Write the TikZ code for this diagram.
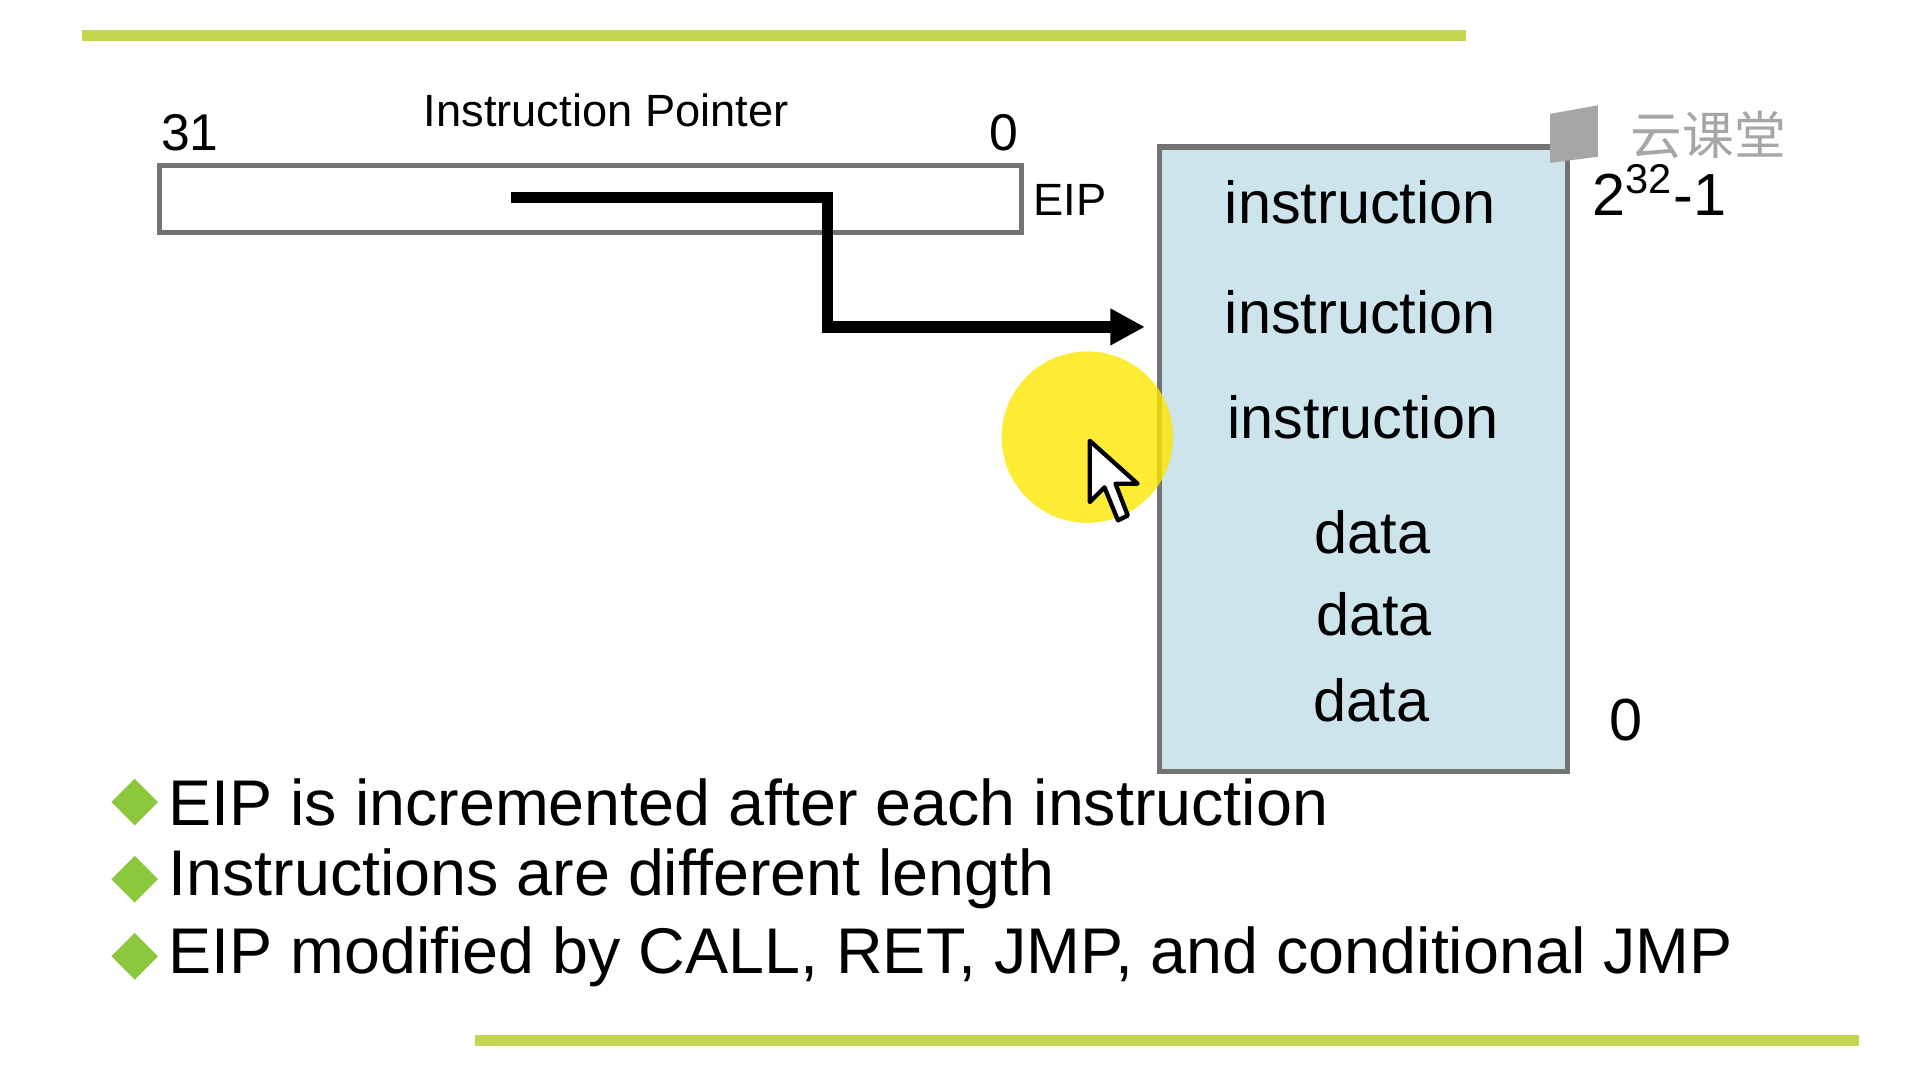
\documentclass[tikz,border=0pt]{standalone}
\usepackage{fontspec}
\setmainfont{Liberation Sans}
\newfontfamily\cjk{Noto Sans CJK SC}
\usetikzlibrary{positioning,arrows.meta,shapes.geometric}
\definecolor{cgreen}{RGB}{196,214,80}
\definecolor{cmem}{RGB}{206,228,236}
\definecolor{cbullet}{RGB}{140,200,60}
\tikzset{
  rule/.style={line width=2.6pt,cgreen},
  box/.style={draw=black!55,line width=1.2pt},
  small/.style={font=\fontsize{10.5}{12}\selectfont,inner sep=0pt},
  cell/.style={font=\fontsize{13.8}{16}\selectfont,inner sep=0pt},
  bullet/.style={diamond,fill=cbullet,minimum size=11pt,inner sep=0pt},
  item/.style={font=\fontsize{15}{17}\selectfont,anchor=west,inner sep=0pt},
  ptr/.style={line width=2.6pt,-{Triangle[length=8pt,width=8pt]}}
}
\begin{document}
\begin{tikzpicture}[x=0.01cm,y=-0.01cm]
%
\useasboundingbox (0,0) rectangle (1568,882);
\fill[white] (0,0) rectangle (1568,882);
%
\draw[rule] (67,29) -- (1197,29);
\draw[rule] (388,850) -- (1518,850);
%
\node[box,minimum width=704*0.01cm,minimum height=55*0.01cm,inner sep=0pt] (reg) at (482,162.5) {};
\node[small] (title) at (495,90) {Instruction Pointer};
\node[small,font=\fontsize{12}{14}\selectfont] (hi) at (155,108) {31};
\node[small,font=\fontsize{12}{14}\selectfont] (lo) at (820,108) {0};
\node[small] (eip) at (874,163) {EIP};
%
\node[box,fill=cmem,minimum width=333*0.01cm,minimum height=510*0.01cm,inner sep=0pt] (mem) at (1113.5,375) {};
\node[cell] (i1) at (1111,165) {instruction};
\node[cell] (i2) at (1111,255) {instruction};
\node[cell] (i3) at (1113,341) {instruction};
\node[cell] (d1) at (1121,435) {data};
\node[cell] (d2) at (1122,502) {data};
\node[cell] (d3) at (1120,572) {data};
\node[cell] (top) at (1355,155) {2\textsuperscript{32}-1};
\node[cell] (bot) at (1328,588) {0};
%
\coordinate (src) at (417,161);
\coordinate (dst) at (935,267);
\draw[ptr] (src) -- (676,161) -- (676,267) -- (dst);
%
\fill[yellow!90!orange,opacity=0.8] (888,357) circle (70);
\draw[black,line width=1pt,fill=white,line join=round]
  (890,360) -- (890,410) -- (902,398) -- (913,425) -- (921,421) -- (911,395) -- (929,395) -- cycle;
%
\node[font=\cjk\fontsize{12}{14}\selectfont,text=black!35,inner sep=0pt] (mark) at (1395,110) {云课堂};
\fill[black!35] (1266,93) -- (1305,86) -- (1305,128) -- (1266,133) -- cycle;
%
\node[bullet] (b1) at (110,655) {};
\node[bullet] (b2) at (110,718) {};
\node[bullet] (b3) at (110,781) {};
\node[item] (t1) at (137,655) {EIP is incremented after each instruction};
\node[item] (t2) at (137,718) {Instructions are different length};
\node[item] (t3) at (137,781) {EIP modified by CALL, RET, JMP, and conditional JMP};
%
\end{tikzpicture}
\end{document}
